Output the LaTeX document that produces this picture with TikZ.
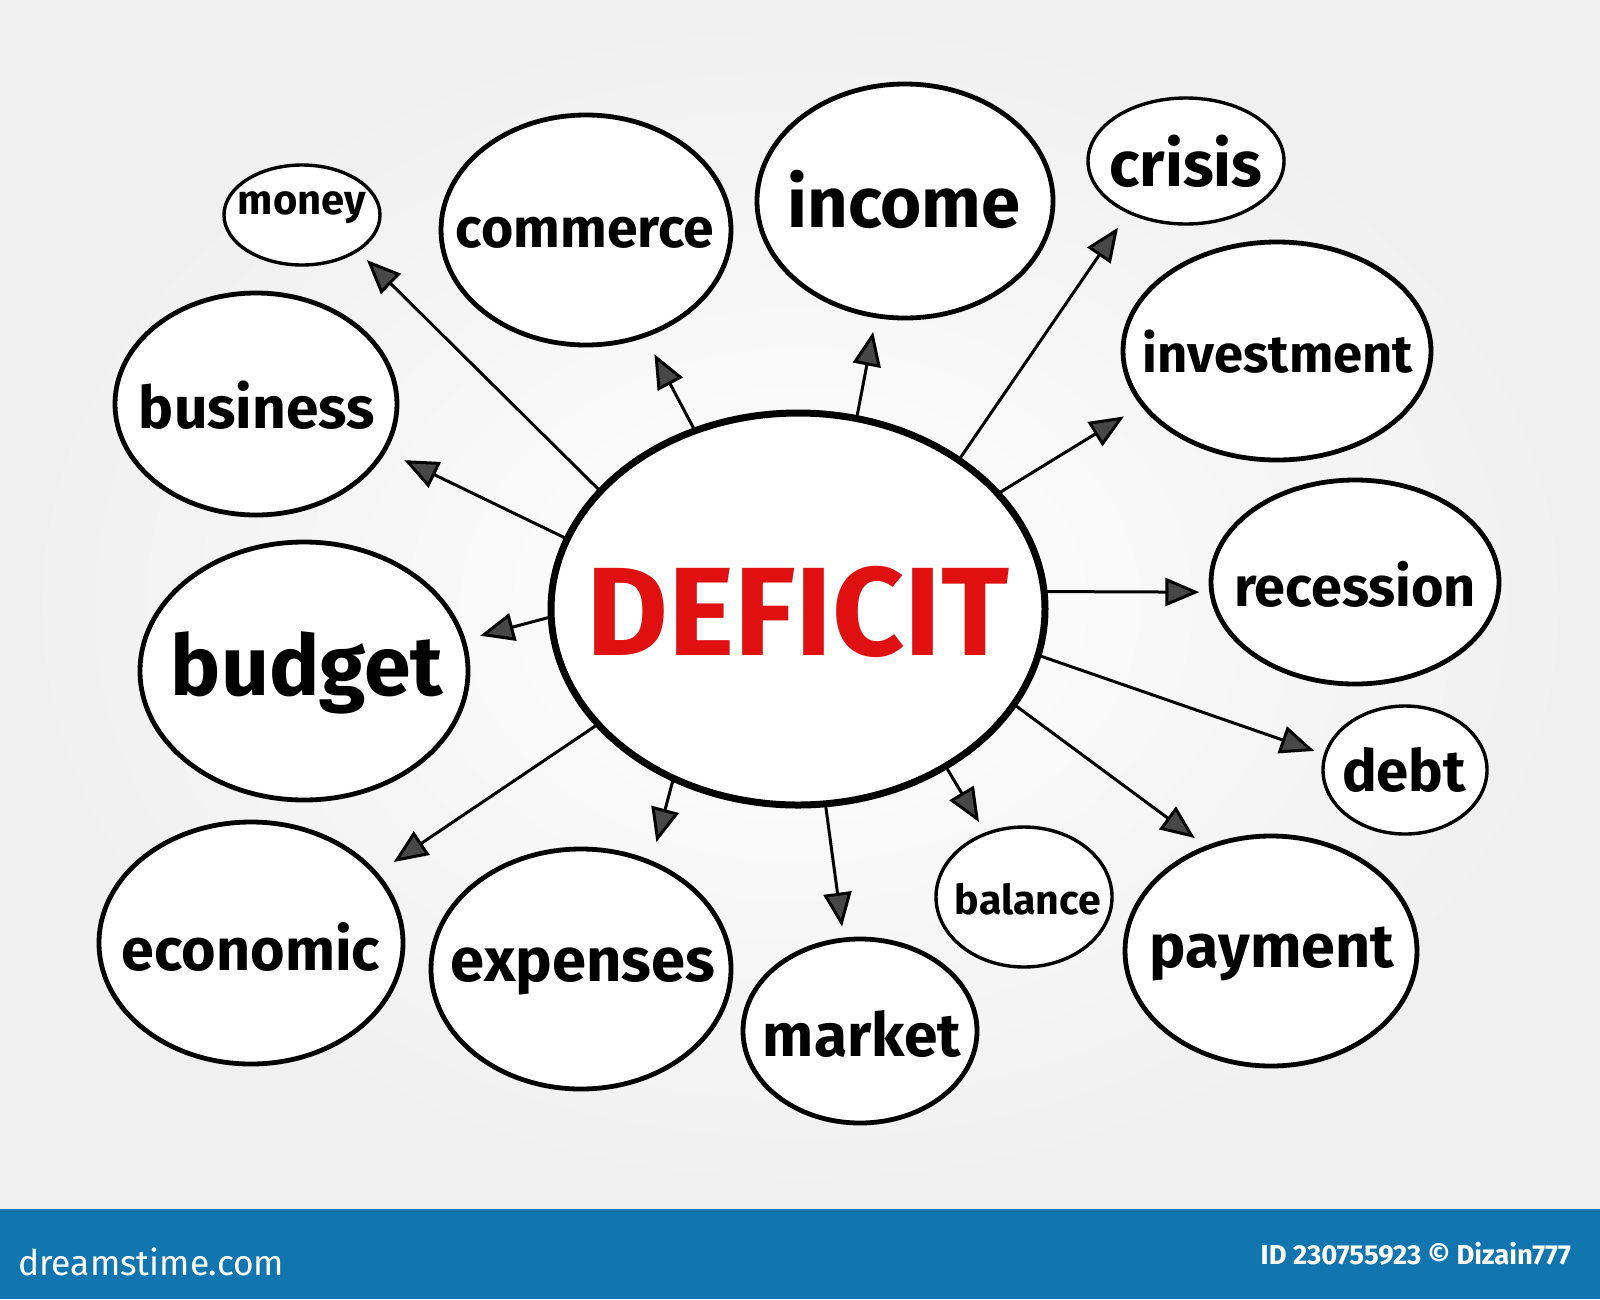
\documentclass[tikz,border=0pt]{standalone}
\usepackage{fontspec}
\setmainfont{Fira Sans}
\usetikzlibrary{shapes.geometric,arrows.meta}
\definecolor{banner}{RGB}{17,118,176}
\definecolor{defred}{RGB}{224,16,16}
\newcommand\fitw[2]{\resizebox{#1pt}{!}{#2}}
\begin{document}
\begin{tikzpicture}[x=1pt,y=-1pt,
  bub/.style={ellipse, draw=black, line width=4.8pt, inner sep=0pt, fill=white},
  small/.style={line width=3.4pt},
  lbl/.style={inner sep=0pt, font=\bfseries},
  arr/.style={line width=3pt, line cap=round, -{Triangle[length=34pt,width=28pt,fill=black!72,line width=3pt]}},
]
\useasboundingbox (0,0) rectangle (1600,1299);
% background
\shade[inner color=white, outer color=black!6] (0,0) rectangle (1600,1209);
\fill[banner] (0,1209) rectangle (1600,1299);
\node[text=white, anchor=west, inner sep=0pt] (ds) at (18,1262) {\fitw{266}{dreamstime.com}};
\node[text=white, anchor=east, inner sep=0pt] (id) at (1571,1254) {\fitw{310}{\bfseries ID 230755923 © Dizain777}};

% central node
\node[bub, line width=7pt, minimum width=494pt, minimum height=392pt] (deficit) at (798,609) {};
\node[lbl, text=defred] (deficit-t) at (798,612) {\fitw{423}{\bfseries DEFICIT}};

% satellite ellipses
\node[bub, small, minimum width=156pt, minimum height=100pt] (money) at (302,215) {};
\node[bub, minimum width=290pt, minimum height=230pt] (commerce) at (586,230) {};
\node[bub, minimum width=296pt, minimum height=234pt] (income) at (905,201) {};
\node[bub, small, minimum width=196pt, minimum height=126pt] (crisis) at (1186,161) {};
\node[bub, minimum width=308pt, minimum height=218pt] (investment) at (1277,351) {};
\node[bub, minimum width=282pt, minimum height=222pt] (business) at (256,404) {};
\node[bub, minimum width=288pt, minimum height=204pt] (recession) at (1355,582) {};
\node[bub, minimum width=328pt, minimum height=258pt] (budget) at (304,671) {};
\node[bub, small, minimum width=164pt, minimum height=128pt] (debt) at (1405,770) {};
\node[bub, minimum width=304pt, minimum height=242pt] (economic) at (251,943) {};
\node[bub, minimum width=300pt, minimum height=240pt] (expenses) at (581,969) {};
\node[bub, minimum width=234pt, minimum height=184pt] (market) at (860,1031) {};
\node[bub, small, minimum width=176pt, minimum height=140pt] (balance) at (1024,897) {};
\node[bub, minimum width=292pt, minimum height=230pt] (payment) at (1271,951) {};

% labels
\node[lbl] (money-t) at (302,208) {\fitw{128}{\bfseries money}};
\node[lbl] (commerce-t) at (585,233) {\fitw{258}{\bfseries commerce}};
\node[lbl] (income-t) at (904,199) {\fitw{233}{\bfseries income}};
\node[lbl] (crisis-t) at (1186,161) {\fitw{153}{\bfseries crisis}};
\node[lbl] (investment-t) at (1278,352) {\fitw{270}{\bfseries investment}};
\node[lbl] (business-t) at (257,405) {\fitw{236}{\bfseries business}};
\node[lbl] (recession-t) at (1355,584) {\fitw{242}{\bfseries recession}};
\node[lbl] (budget-t) at (307,673) {\fitw{272}{\bfseries budget}};
\node[lbl] (debt-t) at (1404,770) {\fitw{124}{\bfseries debt}};
\node[lbl] (economic-t) at (251,947) {\fitw{258}{\bfseries economic}};
\node[lbl] (expenses-t) at (583,971) {\fitw{264}{\bfseries expenses}};
\node[lbl] (market-t) at (862,1034) {\fitw{198}{\bfseries market}};
\node[lbl] (balance-t) at (1028,899) {\fitw{146}{\bfseries balance}};
\node[lbl] (payment-t) at (1272,954) {\fitw{244}{\bfseries payment}};

% connectors
\draw[arr, shorten >=12pt] (deficit.149) -- (money.-33);
\draw[arr, shorten >=19pt] (deficit.120) -- (commerce.-61);
\draw[arr, shorten >=14pt] (deficit.73) -- (income.256.5);
\draw[arr, shorten >=17pt] (deficit.43) -- (crisis.222.4);
\draw[arr, shorten >=20pt] (deficit.30) -- (investment.202);
\draw[arr, shorten >=20pt] (deficit.163) -- (business.-20);
\draw[arr, shorten >=10pt] (deficit.4) -- (recession.184);
\draw[arr, shorten >=15pt] (deficit.182) -- (budget.11);
\draw[arr, shorten >=10pt] (deficit.-11) -- (debt.169);
\draw[arr, shorten >=13pt] (deficit.-24) -- (payment.122);
\draw[arr, shorten >=12pt] (deficit.-47) -- (balance.121);
\draw[arr, shorten >=11pt] (deficit.-82.5) -- (market.100);
\draw[arr, shorten >=19pt] (deficit.234) -- (expenses.57);
\draw[arr, shorten >=19pt] (deficit.210) -- (economic.29);
\end{tikzpicture}
\end{document}
